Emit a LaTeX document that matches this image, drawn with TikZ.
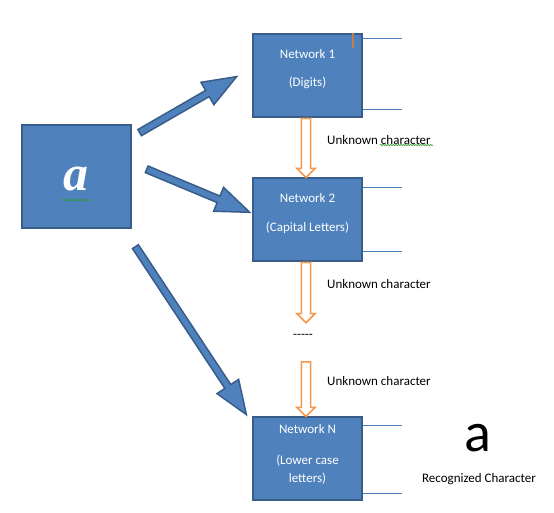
\documentclass[tikz,border=0pt]{standalone}
\usepackage{fontspec}
\setmainfont{Carlito}
\newfontfamily\inputfont{Liberation Serif}
\usetikzlibrary{shapes.arrows,calc,decorations.pathmorphing}
\definecolor{boxblue}{HTML}{4F81BD}
\definecolor{boxline}{HTML}{385D8A}
\definecolor{outblue}{HTML}{4A7EBB}
\definecolor{passorange}{HTML}{F79646}
\definecolor{tickbrown}{HTML}{C0804D}
\definecolor{spellgreen}{HTML}{2E9B2E}

\begin{document}
\begin{tikzpicture}
		[   x=1pt,y=-1pt,
			netbox/.style={draw=boxline,line width=2pt,fill=boxblue,minimum width=109pt,minimum height=83pt,inner sep=0pt},
			nettext/.style={text=white,align=center,font=\fontsize{13}{16}\selectfont,inner sep=0pt},
			note/.style={font=\fontsize{13}{16}\selectfont,inner sep=0pt},
		]
		\tikzset{big arrow/.style={draw=boxline,line width=1.5pt,fill=boxblue,single arrow,single arrow tip angle=42,single arrow head extend=9.4pt,inner sep=2.8pt,anchor=tail}}
		\tikzset{pass arrow/.style={draw=passorange,line width=1.5pt,fill=white,single arrow,single arrow tip angle=90,single arrow head extend=4.5pt,inner sep=3.8pt,anchor=tail}}
		\tikzset{out line/.style={draw=outblue,line width=1pt}}
		\tikzset{squiggle/.style={draw=spellgreen,line width=0.6pt,decorate,decoration={snake,amplitude=0.6pt,segment length=2.5pt}}}
		\useasboundingbox (0,0) rectangle (554,512);
		
		\node[netbox,minimum height=103pt] (in) at (76.5,176.5) {};
		\node[text=white,inner sep=0pt,font=\inputfont\bfseries\itshape\fontsize{50}{50}\selectfont] (in-txt) at (76.3,179.3) {a};
		
		\node[netbox] (net1) at (307.5,75.2) {};
		\node[netbox] (net2) at (307.5,219.2) {};
		\node[netbox] (netN) at (307.5,458.2) {};
		
		\node[nettext] (net1-txt) at ([yshift=6.5]net1.center) {Network 1\\[12pt](Digits)};
		\node[nettext] (net2-txt) at ([yshift=6]net2.center) {Network 2\\[13pt](Capital Letters)};
		\node[nettext] (netN-txt) at ([yshift=4]netN.center) {Network N\\[15pt](Lower case\\[2pt]letters)};
		
		\node[note,anchor=west] (lbl-1) at (327,140) {Unknown character};
		\node[note,anchor=west] (lbl-2) at (327,284) {Unknown character};
		\node[note,anchor=west] (lbl-3) at (327,381) {Unknown character};
		\node[note] (dots) at (303,336) {-{}-{}-{}-{}-};
		
		\node[inner sep=0pt,font=\fontsize{56}{56}\selectfont] (res) at (478,438) {a};
		\node[note] (res-txt) at (479,479) {Recognized Character};
		
		\coordinate (t-1) at (139,133);
		\coordinate (h-1) at (236,77);
		\coordinate (t-2) at (146,169);
		\coordinate (h-2) at (249,212);
		\coordinate (t-3) at (135,246);
		\coordinate (h-3) at (246,414);
		\coordinate (d-top) at (307.5,322);
		\coordinate (d-bot) at (307.5,361);
		
		\foreach \i in {1,...,3}
		{
			\path let \p1=($(h-\i)-(t-\i)$), \n1={atan2(\y1,\x1)}, \n2={veclen(\x1,\y1)}
				in node[big arrow,rotate=\n1,minimum height=\n2] (arr-\i) at (t-\i) {};
		}
		
		\foreach \s/\t [count=\k] in {net1.south/net2.north,net2.south/d-top,d-bot/netN.north}
		{
			\path let \p1=($(\t)-(\s)$), \n2={veclen(\x1,\y1)}
				in node[pass arrow,rotate=-90,minimum height=\n2] (pass-\k) at ([xshift=-1.5]\s) {};
		}
		
		\foreach \n/\a/\b in {net1/5.6/8.7,net2/10.3/10.7,netN/9.3/7.7}
		{
			\draw[out line] ([yshift=-\a]\n.north east) -- ++(39,0);
			\draw[out line] ([yshift=\b]\n.south east) -- ++(39,0);
		}
		
		\draw[draw=tickbrown,line width=1.4pt] ([xshift=-10]net1.north east) -- ++(0,15);
		\draw[squiggle] (62,200) -- (90,200);
		\draw[squiggle] (380,145) -- (433,145);
		
\end{tikzpicture}
\end{document}
